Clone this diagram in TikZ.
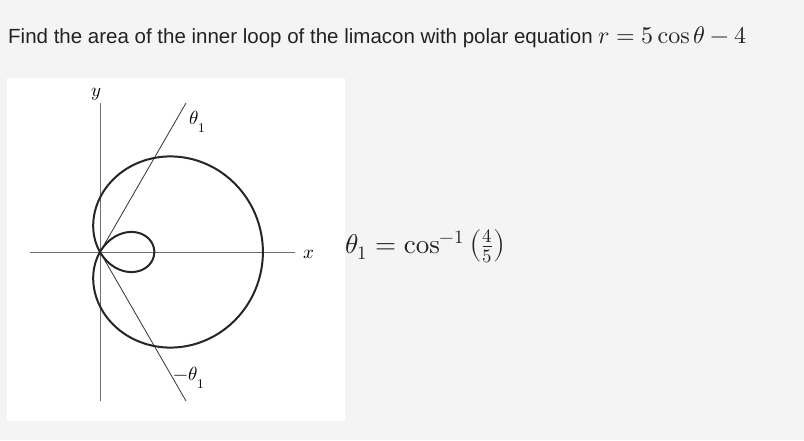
\documentclass[tikz,border=0pt]{standalone}
\usepackage{amsmath}
\usepackage{fontspec}
\usepackage{unicode-math}
\setmainfont{Liberation Sans}
\setmathfont{latinmodern-math.otf}
\setmathrm{lmroman10-regular.otf}
\usepackage{tikz}

\definecolor{pagebg}{RGB}{244,244,244}
\definecolor{textgray}{RGB}{34,34,34}
\definecolor{axisgray}{RGB}{110,110,110}

\tikzset{
    axisline/.style={draw=axisgray, line width=1pt},
    rayline/.style={draw=black!80, line width=0.8pt},
    loopline/.style={draw=black!85, line width=2pt},
    smalllbl/.style={inner sep=0pt, font=\fontsize{19}{19}\selectfont},
    biglbl/.style={anchor=base west, inner sep=0pt, text=textgray}
}

\begin{document}
\begin{tikzpicture}[x=1pt,y=1pt]

    \fill[pagebg] (0,0) rectangle (804,440);
    \useasboundingbox (0,0) rectangle (804,440);

    \node[biglbl, font=\fontsize{20.5}{24}\selectfont] (title) at (8,396)
      {Find the area of the inner loop of the limacon with polar equation {\fontsize{24}{28}\selectfont$r = 5\cos\theta - 4$}};



    \fill[white] (7,19) rectangle (345,362);

    \coordinate (O) at (100,188);
    \coordinate (ytop) at (100,337);
    \coordinate (ybot) at (100,39);
    \coordinate (xleft) at (30,188);
    \coordinate (xright) at (295,188);

    \draw[axisline] (ybot) -- (ytop);
    \draw[axisline] (xleft) -- (xright);

    \node[smalllbl] (ylbl) at (96,346) {$y$};
    \node[smalllbl] (xlbl) at (309,186) {$x$};



    \coordinate (rayup) at ([shift={(60:172)}]O);
    \coordinate (raydown) at ([shift={(-60:172)}]O);

    \draw[rayline] (O) -- (rayup);
    \draw[rayline] (O) -- (raydown);

    \node[smalllbl] (uplbl) at (198,318) {$\theta_{\raisebox{-3pt}{$\scriptstyle 1$}}$};
    \node[smalllbl] (downlbl) at (189,62) {$-\theta_{\raisebox{-3pt}{$\scriptstyle 1$}}$};



    \begin{scope}[shift={(O)}, x=54.3pt, y=54.3pt]

      \draw[loopline] plot[domain=0:360, samples=361]
        ({(1+2*cos(\x))*cos(\x)}, {(1+2*cos(\x))*sin(\x)});

    \end{scope}



    \node[biglbl, font=\fontsize{27}{30}\selectfont] (answer) at (345,187)
      {$\theta_1 = \cos^{-1}\left(\frac{4}{5}\right)$};

\end{tikzpicture}
\end{document}
